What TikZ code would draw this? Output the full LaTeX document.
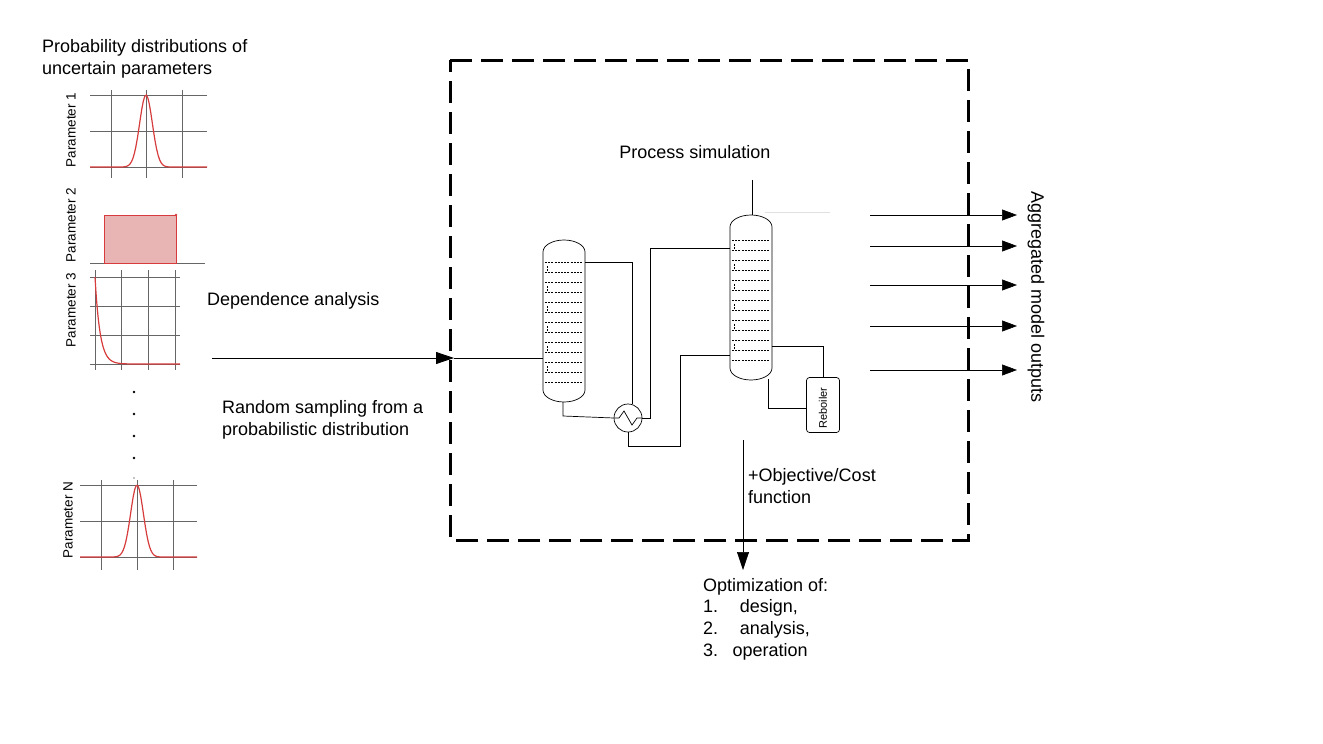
\documentclass[tikz,border=0pt]{standalone}
\usepackage{fontspec}
\setmainfont{Liberation Sans}
\usetikzlibrary{arrows.meta}
\definecolor{cr}{RGB}{215,60,60}
\definecolor{pk}{RGB}{232,180,180}
\begin{document}
\begin{tikzpicture}[x=1pt,y=-1pt,
  grid/.style={black!60,line width=0.6},
  curve/.style={cr,line width=1.2},
  pipe/.style={black,line width=0.7},
  tray/.style={black,dashed,dash pattern=on 2pt off 1.2pt,line width=0.5},
  lab/.style={rotate=90,font=\fontsize{13.5}{16}\selectfont},
  txt/.style={font=\fontsize{18}{22}\selectfont,align=left,anchor=west,inner sep=0},
  big/.style={-{Triangle[length=18,width=12]},line width=0.8}]
\useasboundingbox (0,0) rectangle (1323,744);
% title
\node[txt] (title) at (42,59) {Probability distributions of\\uncertain parameters};
% plot 1
\foreach \y in {95,131,167} \draw[grid] (90,\y) -- (207,\y);
\foreach \x in {111,146,182} \draw[grid] (\x,90) -- (\x,178);
\draw[curve,domain=90:207,samples=80] plot (\x,{167-72*exp(-((\x-146)/9)^2)});
\node[lab] (p1) at (71,130) {Parameter 1};
% plot 2
\draw[grid] (90,263) -- (205,263);
\draw[cr,fill=pk,line width=0.8] (104,263) rectangle (176,215);
\fill[cr] (176,215) circle (1.3);
\node[lab] (p2) at (71,225) {Parameter 2};
% plot 3
\foreach \y in {277,306,335,364} \draw[grid] (90,\y) -- (180,\y);
\foreach \x in {95,121,148,175} \draw[grid] (\x,270) -- (\x,370);
\draw[curve,domain=95:180,samples=80] plot (\x,{364-87*exp(-(\x-95)/5)});
\node[lab] (p3) at (71,310) {Parameter 3};
% dots
\foreach \y in {392,414,436,458} \fill (134,\y) circle (1.3);
\fill (134,478) circle (0.6);
% plot N
\foreach \y in {485,521,557} \draw[grid] (80,\y) -- (197,\y);
\foreach \x in {101,137,173} \draw[grid] (\x,480) -- (\x,570);
\draw[curve,domain=80:197,samples=80] plot (\x,{557-72*exp(-((\x-137)/9)^2)});
\node[lab] (pN) at (68,520) {Parameter N};
% texts
\node[txt] (dep) at (207,301) {Dependence analysis};
\node[txt] (rs) at (222,420) {Random sampling from a\\probabilistic distribution};
\coordinate (a0) at (212,358);
\coordinate (a1) at (454,358);
\draw[big] (a0) -- (a1);
% dashed box
\draw[line width=3,dash pattern=on 22pt off 9pt] (450,60) -- (968,60) -- (968,540) -- (450,540) -- cycle;
\node[txt,anchor=center] (ps) at (695,152) {Process simulation};
% column 1
\draw[pipe] (543,252) arc (180:360:21 and 12) -- (585,390) arc (0:180:21 and 12) -- cycle;
\foreach \y in {262,272,...,382} \draw[tray] (545,\y) -- (583,\y);
\foreach \y in {266,286,...,366} \draw[tray] (547,\y) -- (547,\y+5);
\draw[pipe] (454,358) -- (543,358);
\node[draw,circle,minimum size=28,inner sep=0,pipe] (hx) at (628,418) {};
\draw[pipe] (614,418) -- (619,418) -- (624,411) -- (632,425) -- (637,418) -- (642,418);
\draw[pipe] (585,262) -- (632,262) -- (632,404);
\draw[pipe] (563,402) -- (563,416) -- (hx.west);
\draw[pipe] (hx.east) -- (650,418) -- (650,248) -- (730,248);
\draw[pipe] (hx.south) -- (628,446) -- (680,446) -- (680,355) -- (730,355);
% column 2
\draw[pipe] (730,227) arc (180:360:21 and 12) -- (772,368) arc (0:180:21 and 12) -- cycle;
\foreach \y in {240,250,...,362} \draw[tray] (732,\y) -- (770,\y);
\foreach \y in {244,264,...,344} \draw[tray] (734,\y) -- (734,\y+5);
\draw[pipe] (752,215) -- (752,180);
\draw[black!12,line width=1] (765,212) -- (830,212);
\node[draw,pipe,minimum width=33,minimum height=55,inner sep=0,rounded corners=3] (reb) at (823,405) {};
\node[rotate=90,font=\fontsize{11}{13}\selectfont] (rebt) at (823,408) {Reboiler};
\draw[pipe] (772,346) -- (823,346) -- (reb.north);
\draw[pipe] (768,379) -- (768,408) -- (reb.west|-768,408);
% objective
\coordinate (o0) at (743,440);
\coordinate (o1) at (743,570);
\draw[big,line width=0.6] (o0) -- (o1);
\node[txt] (obj) at (748,486) {+Objective/Cost\\function};
\node[txt,anchor=north west,font=\fontsize{18}{21.7}\selectfont] (opt) at (703,578) {Optimization of:\\1.\hspace{1.2em}design,\\2.\hspace{1.2em}analysis,\\3.\hspace{0.8em}operation};
% outputs
\foreach \y [count=\i] in {215,246,285,326,370} {
  \coordinate (s\i) at (870,\y);
  \coordinate (e\i) at (1017,\y);
  \draw[-{Triangle[length=15,width=11]},line width=0.6] (s\i) -- (e\i);
}
\node[rotate=-90,font=\fontsize{18}{22}\selectfont] (agg) at (1036,297) {Aggregated model outputs};
\end{tikzpicture}
\end{document}
